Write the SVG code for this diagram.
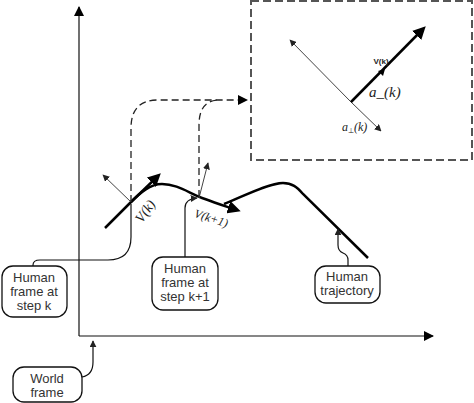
<svg xmlns="http://www.w3.org/2000/svg" width="474" height="403" viewBox="0 0 474 403">
<defs>
<marker id="ah" viewBox="0 0 10 10" refX="9" refY="5" markerWidth="10" markerHeight="10" markerUnits="userSpaceOnUse" orient="auto"><path d="M0,0 L10,5 L0,10 z" fill="#000"/></marker>
<marker id="ahs" viewBox="0 0 10 10" refX="9" refY="5" markerWidth="7" markerHeight="7" markerUnits="userSpaceOnUse" orient="auto"><path d="M0,0 L10,5 L0,10 z" fill="#222"/></marker>
<marker id="ahb" viewBox="0 0 10 10" refX="7" refY="5" markerWidth="13" markerHeight="13" markerUnits="userSpaceOnUse" orient="auto"><path d="M0,0 L10,5 L0,10 z" fill="#000"/></marker>
</defs>
<style>
.box{fill:#fff;stroke:#111;stroke-width:1.3}
.lbl{font-family:"Liberation Sans",Arial,sans-serif;font-size:13px;fill:#333;text-anchor:middle}
.ln{fill:none;stroke:#111;stroke-width:1.2}
.thin{fill:none;stroke:#444;stroke-width:1}
.dash{fill:none;stroke:#222;stroke-width:1.3;stroke-dasharray:7,4}
.thick{fill:none;stroke:#000;stroke-width:2.5}
.math{font-family:"Liberation Serif","Times New Roman",serif;font-style:italic;fill:#222}
</style>
<rect width="474" height="403" fill="#fff"/>
<g id="inset">
<rect x="251" y="1" width="221" height="159" fill="none" stroke="#555" stroke-width="2" stroke-dasharray="8,4"/>
<path class="thin" d="M351,102 L290,40" marker-end="url(#ahs)"/>
<path class="thin" d="M351,102 L381,131" marker-end="url(#ahs)"/>
<path class="thick" d="M351,102 L423,29" marker-end="url(#ahb)"/>
<path d="M378,71 L385,69 L383,76 z" fill="#000"/>
<text x="381" y="64" font-family="Liberation Sans,Arial,sans-serif" font-size="8" font-weight="bold" fill="#222" text-anchor="middle">V(k)</text>
<text x="369" y="97" class="math" font-size="15">a<tspan font-style="normal">_</tspan>(k)</text>
<text x="342" y="131" class="math" font-size="12">a<tspan font-size="7" dy="2" font-style="normal">⊥</tspan><tspan dy="-2">(k)</tspan></text>
</g>
<g id="axes">
<path class="ln" d="M79,336 L79,7" marker-end="url(#ah)"/>
<path class="ln" d="M79,336 L433,336" marker-end="url(#ah)"/>
</g>
<g id="trajectory">
<path class="thick" stroke-width="2.2" d="M105,228 L131,202 C140,193 150,184 162,184 C178,184 190,194 205,199 C215,203 225,206 237,210" marker-end="url(#ahb)"/>
<path class="thick" stroke-width="2.2" d="M224,204 C240,198 268,183 283,183 C292,183 297,187 303,194 L368,258"/>
<path class="thick" d="M131,202 L158,176" marker-end="url(#ahb)"/>
<path class="thin" d="M131,202 L103,175" marker-end="url(#ahs)"/>
<path class="thin" d="M199,198 L208,163" marker-end="url(#ahs)"/>
<text class="math" font-size="14" transform="translate(149,214) rotate(-55)" text-anchor="middle">V(k)</text>
<text class="math" font-size="12" transform="translate(210,222) rotate(18)" text-anchor="middle">V(k+1)</text>
</g>
<g id="connectors">
<path class="dash" d="M131,202 L131,128 Q131,100 158,100 L247,100" marker-end="url(#ah)"/>
<path class="dash" d="M199,197 L199,125 Q199,101 218,100"/>
<path class="ln" d="M33,266 L33,265 Q33,260 40,260 L108,260 Q131,260 131,237 L131,204"/>
<path class="ln" d="M185,257 L185,208 Q185,199 197,198" marker-end="url(#ahs)"/>
<path class="ln" d="M348,266 L348,260 Q348,255 343,253 Q338,251 338,245 L338,229" marker-end="url(#ahs)"/>
<path class="ln" d="M82,377 Q93,375 93,362 L93,341" marker-end="url(#ahs)"/>
</g>
<g id="node-k">
<rect class="box" x="2" y="266" width="65" height="51" rx="11"/>
<text class="lbl" x="34" y="282">Human</text>
<text class="lbl" x="34" y="296">frame at</text>
<text class="lbl" x="34" y="310">step k</text>
</g>
<g id="node-k1">
<rect class="box" x="152" y="257" width="66" height="53" rx="11"/>
<text class="lbl" x="185" y="273">Human</text>
<text class="lbl" x="185" y="287">frame at</text>
<text class="lbl" x="185" y="301">step k+1</text>
</g>
<g id="node-traj">
<rect class="box" x="315" y="266" width="65" height="37" rx="11"/>
<text class="lbl" x="347" y="281">Human</text>
<text class="lbl" x="347" y="295">trajectory</text>
</g>
<g id="node-world">
<rect class="box" x="13" y="367" width="69" height="35" rx="11"/>
<text class="lbl" x="47" y="383">World</text>
<text class="lbl" x="47" y="397">frame</text>
</g>
</svg>
